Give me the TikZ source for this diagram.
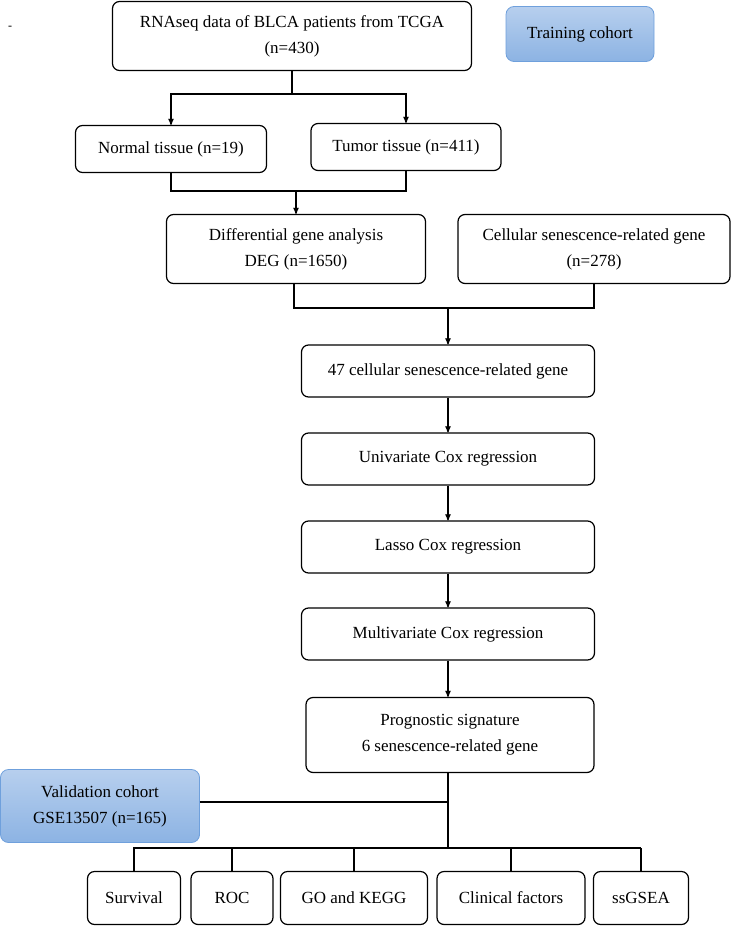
\documentclass[tikz,border=0pt]{standalone}
\usepackage{fontspec}
\setmainfont{Liberation Serif}
\usetikzlibrary{arrows,positioning,calc}
\definecolor{blueA}{HTML}{B7CFEE}
\definecolor{blueB}{HTML}{8CB3E3}
\definecolor{blueL}{HTML}{6FA0DC}
\tikzset{>=stealth',
	box/.style={draw=black,line width=1.2pt,rounded corners=7pt,align=center,inner sep=2pt,font=\fontsize{17}{26}\selectfont},
	cohort/.style={draw=blueL,line width=0.8pt,rounded corners=8pt,top color=blueA,bottom color=blueB,align=center,inner sep=2pt,font=\fontsize{17}{26}\selectfont},
	link/.style={line width=1.2pt}}
\begin{document}
\begin{tikzpicture}[x=1pt,y=-1pt]
	\useasboundingbox (0,0) rectangle (748,928);
	\node at (10,28) {\fontsize{12}{12}\selectfont -};
	\node (rna) at (292,36) [box,minimum width=359pt,minimum height=69pt] {RNAseq data of BLCA patients from TCGA\\(n=430)};
	\node (train) at (580,34) [cohort,minimum width=148pt,minimum height=55pt] {Training cohort};
	\node (nor) at (171,149) [box,minimum width=191pt,minimum height=47pt] {Normal tissue (n=19)};
	\node (tum) at (406,147) [box,minimum width=190pt,minimum height=47pt] {Tumor tissue (n=411)};
	\node (deg) at (296,249) [box,minimum width=259pt,minimum height=69pt] {Differential gene analysis\\DEG (n=1650)};
	\node (csg) at (594,249) [box,minimum width=272pt,minimum height=69pt] {Cellular senescence-related gene\\(n=278)};
	\node (g47) at (448,371) [box,minimum width=293pt,minimum height=52pt] {47 cellular senescence-related gene};
	\node (uni) at (448,459) [box,minimum width=293pt,minimum height=52pt] {Univariate Cox regression};
	\node (las) at (448,547) [box,minimum width=293pt,minimum height=52pt] {Lasso Cox regression};
	\node (mul) at (448,634) [box,minimum width=293pt,minimum height=52pt] {Multivariate Cox regression};
	\node (pro) at (450,735) [box,minimum width=288pt,minimum height=75pt] {Prognostic signature\\6 senescence-related gene};
	\node (val) at (100,806) [cohort,minimum width=199pt,minimum height=73pt] {Validation cohort\\GSE13507 (n=165)};
	\node (sur) at (134,898) [box,minimum width=93pt,minimum height=53pt] {Survival};
	\node (roc) at (232,898) [box,minimum width=82pt,minimum height=53pt] {ROC};
	\node (go) at (354,898) [box,minimum width=147pt,minimum height=53pt] {GO and KEGG};
	\node (cli) at (511,898) [box,minimum width=148pt,minimum height=53pt] {Clinical factors};
	\node (ssg) at (641,898) [box,minimum width=95pt,minimum height=53pt] {ssGSEA};
	% split after TCGA
	\coordinate (s1) at (292,94);
	\draw [link] (rna.south) -- (s1);
	\draw [link,->] (s1) -| (nor.north);
	\draw [link,->] (s1) -| (tum.north);
	% merge tissues
	\coordinate (m1) at (296,191);
	\draw [link] (nor.south) |- (m1) -| (tum.south);
	\draw [link,->] (m1) -- (deg.north);
	% merge genes
	\coordinate (m2) at (448,308);
	\draw [link] ($(deg.south)+(-2,0)$) |- (m2) -| (csg.south);
	\draw [link,->] (m2) -- (g47.north);
	\draw [link,->] (g47) -- (uni);
	\draw [link,->] (uni) -- (las);
	\draw [link,->] (las) -- (mul);
	\draw [link,->] (mul.south) -- (mul.south |- pro.north);
	% outputs
	\coordinate (v1) at (448,802);
	\coordinate (b1) at (448,848);
	\draw [link] (pro.south -| v1) -- (b1);
	\draw [link] (val.east |- v1) -- (v1);
	\draw [link] (b1) -| (sur.north);
	\foreach \n in {roc,go,cli,ssg}
		\draw [link] (\n.north) -- (\n.north |- b1);
	\draw [link] (b1) -- (ssg.north |- b1);
\end{tikzpicture}
\end{document}
